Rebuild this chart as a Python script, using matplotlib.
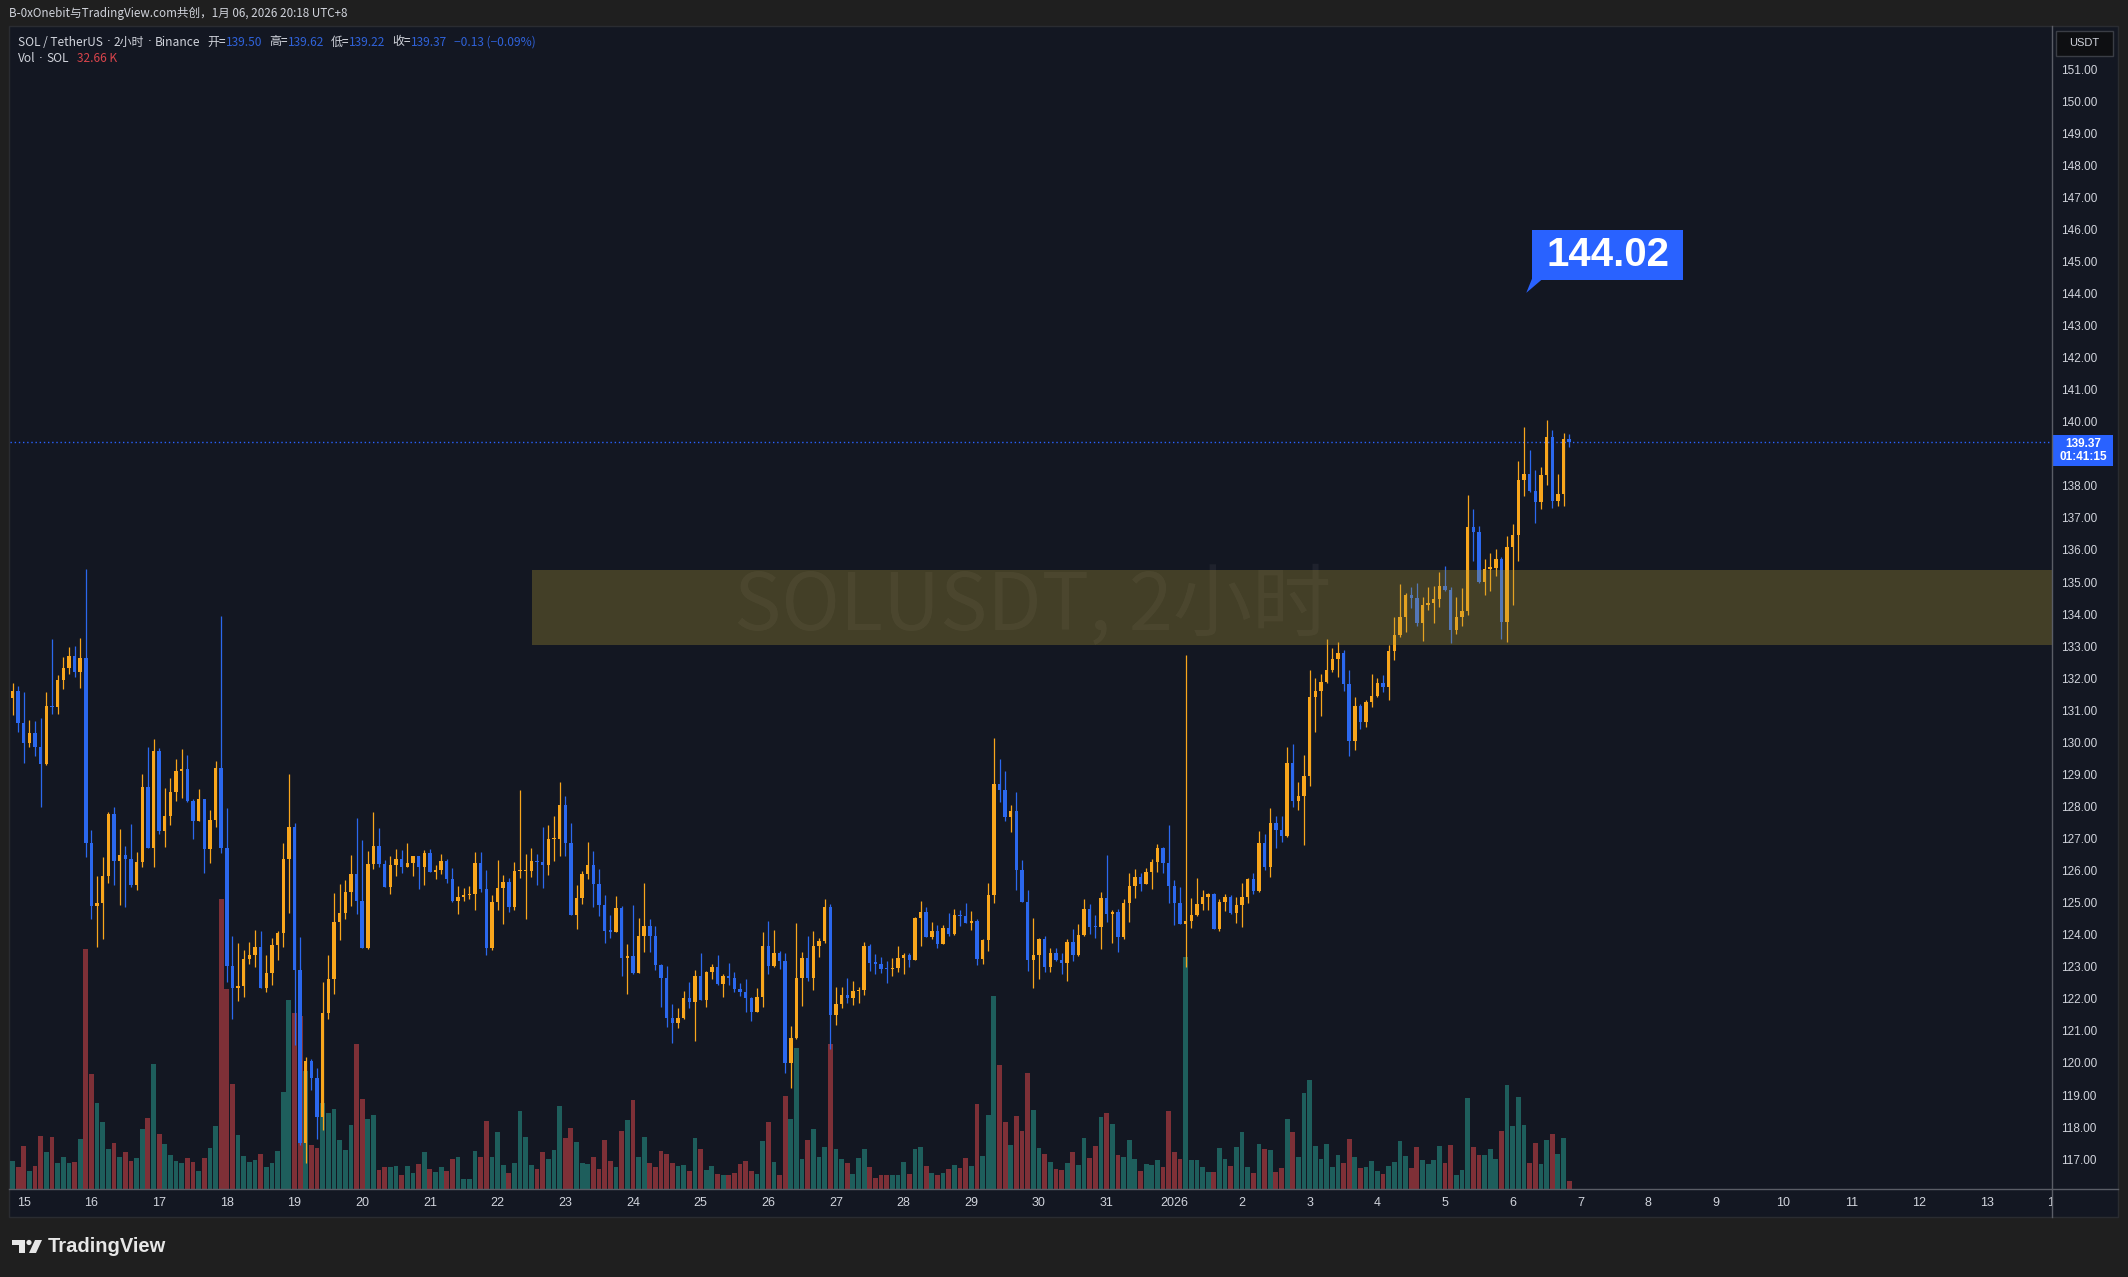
import numpy as np
import matplotlib.pyplot as plt
from matplotlib.patches import Rectangle, Polygon, Circle

# SOL/USDT 2h candles, first bar = Dec 14 20:00, last bar = Jan 6 20:00
# open of each bar = close of the bar before
first_open = 131.39
close = [
    131.61, 130.61,
    129.99, 130.30, 129.84, 129.34, 131.14, 131.11, 131.95, 132.31, 132.68, 132.21, 132.63, 126.85,
    124.91, 124.99, 125.83, 127.76, 126.31, 126.49, 126.35, 125.54, 126.27, 128.60, 126.72, 129.74,
    127.22, 127.70, 128.45, 129.11, 129.16, 128.18, 127.56, 128.23, 126.68, 127.58, 129.20, 126.72,
    123.01, 122.35, 122.40, 123.24, 123.37, 123.61, 122.35, 122.81, 123.68, 124.06, 126.36, 127.36,
    122.91, 117.51, 120.06, 119.54, 118.33, 121.56, 122.62, 124.40, 124.68, 125.33, 125.89, 125.04,
    123.60, 126.21, 126.77, 126.22, 125.50, 126.17, 126.36, 126.12, 126.24, 126.45, 126.10, 126.55,
    125.97, 126.02, 126.30, 125.75, 125.04, 125.18, 125.24, 125.27, 126.24, 125.42, 123.60, 125.03,
    125.46, 125.65, 124.85, 125.99, 125.99, 125.99, 126.30, 126.26, 126.17, 126.99, 127.00, 128.04,
    126.86, 124.63, 125.14, 125.89, 126.17, 125.59, 124.94, 124.12, 124.10, 124.83, 123.28, 123.35,
    122.81, 123.96, 124.27, 123.96, 123.07, 122.65, 121.41, 121.26, 121.40, 122.02, 121.91, 122.71,
    121.98, 122.84, 123.00, 122.47, 122.71, 122.66, 122.31, 122.22, 122.03, 121.60, 122.06, 123.65,
    123.03, 123.43, 123.17, 120.01, 120.77, 122.65, 123.27, 122.66, 123.65, 123.80, 124.86, 121.51,
    121.84, 122.12, 122.03, 122.25, 122.28, 123.65, 123.12, 123.10, 122.94, 122.92, 122.96, 123.27,
    123.37, 123.22, 124.52, 124.71, 123.94, 124.12, 123.71, 124.21, 124.02, 124.62, 124.59, 124.38,
    124.43, 123.24, 123.84, 125.24, 128.71, 128.51, 127.67, 127.86, 126.02, 125.03, 123.22, 123.38,
    123.87, 123.00, 123.43, 123.22, 123.12, 123.78, 123.37, 123.99, 124.80, 124.25, 124.23, 125.14,
    124.64, 124.71, 123.93, 124.99, 125.52, 125.80, 125.59, 125.96, 126.26, 126.71, 126.24, 125.52,
    124.99, 124.34, 124.43, 124.62, 124.96, 125.18, 125.27, 124.19, 125.03, 125.18, 124.68, 124.92,
    125.18, 125.74, 125.37, 126.86, 126.11, 127.48, 127.27, 127.08, 129.35, 128.17, 128.32, 128.95,
    131.42, 131.61, 131.89, 132.26, 132.60, 132.78, 131.82, 130.05, 131.14, 130.64, 131.26, 131.45,
    131.85, 131.74, 132.86, 133.36, 133.91, 134.60, 134.50, 133.72, 134.29, 134.35, 134.47, 134.88,
    134.76, 133.50, 133.91, 134.10, 136.72, 136.56, 135.01, 135.42, 135.43, 135.71, 133.75, 136.09,
    136.47, 138.18, 138.37, 137.84, 137.51, 138.34, 139.53, 137.54, 137.74, 139.47, 139.37,
]
high = [
    131.85, 131.76,
    131.57, 130.70, 130.67, 130.75, 131.57, 133.22, 132.10, 132.66, 132.97, 133.01, 133.25, 135.40,
    127.27, 125.83, 126.43, 127.84, 127.98, 127.29, 126.77, 127.46, 126.58, 129.02, 129.85, 130.11,
    129.83, 128.58, 128.88, 129.48, 129.79, 129.61, 128.23, 128.54, 128.23, 127.89, 129.42, 133.94,
    127.95, 123.96, 123.74, 123.52, 123.78, 124.15, 124.12, 123.37, 123.91, 124.12, 126.87, 129.01,
    127.48, 123.93, 120.19, 120.11, 119.84, 122.53, 123.37, 125.31, 125.59, 125.71, 126.49, 127.64,
    126.96, 126.62, 127.83, 127.33, 126.34, 126.45, 126.67, 126.64, 126.86, 126.47, 126.47, 126.64,
    126.67, 126.17, 126.52, 126.36, 126.08, 125.52, 125.46, 125.52, 126.58, 126.58, 126.02, 125.24,
    126.34, 125.87, 125.78, 126.27, 128.51, 126.52, 126.71, 126.52, 127.36, 127.42, 127.70, 128.77,
    128.32, 127.48, 125.55, 125.99, 126.90, 126.62, 126.06, 125.24, 124.62, 125.20, 124.90, 123.71,
    124.92, 124.52, 125.61, 124.49, 124.27, 123.10, 123.03, 121.84, 121.72, 122.23, 122.54, 122.90,
    123.43, 122.86, 123.09, 123.37, 122.76, 123.12, 122.84, 122.51, 122.62, 122.06, 122.34, 124.08,
    124.43, 124.15, 123.50, 123.43, 121.16, 124.38, 123.46, 123.96, 124.12, 123.91, 125.12, 124.96,
    122.38, 122.38, 122.65, 122.57, 122.38, 123.78, 123.71, 123.40, 123.31, 123.19, 123.28, 123.65,
    123.43, 123.43, 124.55, 125.05, 124.86, 124.40, 124.30, 124.30, 124.68, 124.80, 124.77, 124.99,
    124.75, 124.49, 123.86, 125.61, 130.13, 129.48, 129.11, 128.04, 128.45, 126.34, 125.39, 124.52,
    123.89, 123.96, 123.59, 123.59, 123.43, 123.87, 124.17, 124.34, 125.12, 124.96, 124.62, 125.33,
    126.49, 124.77, 124.80, 125.12, 125.93, 126.04, 125.93, 126.08, 126.36, 126.83, 126.73, 127.42,
    125.71, 125.48, 132.73, 125.14, 125.76, 125.39, 125.31, 125.31, 125.12, 125.27, 125.24, 125.18,
    125.61, 125.76, 125.93, 127.24, 127.14, 127.95, 127.70, 127.70, 129.85, 129.95, 128.77, 129.61,
    132.26, 132.00, 132.13, 133.22, 132.94, 133.12, 132.88, 132.26, 131.42, 131.20, 131.33, 132.13,
    132.00, 132.10, 133.03, 133.92, 134.94, 134.66, 134.85, 134.98, 134.54, 134.85, 134.88, 135.32,
    135.51, 134.85, 134.54, 134.82, 137.71, 137.29, 136.75, 135.71, 135.90, 136.03, 135.78, 136.44,
    136.81, 138.78, 139.83, 139.12, 138.50, 138.59, 140.05, 139.74, 138.37, 139.66, 139.62,
]
low = [
    130.86, 130.31,
    129.37, 129.86, 129.56, 127.97, 129.28, 130.89, 130.87, 131.67, 132.12, 132.05, 131.71, 126.44,
    124.50, 123.63, 123.88, 125.60, 125.54, 124.94, 124.85, 125.50, 125.41, 126.12, 126.70, 126.10,
    127.13, 126.74, 127.41, 128.16, 128.25, 128.15, 127.00, 127.55, 125.94, 126.25, 127.37, 126.55,
    122.54, 121.36, 121.94, 122.07, 123.08, 123.00, 122.33, 122.20, 122.44, 123.21, 123.63, 124.69,
    120.57, 117.44, 116.88, 119.17, 117.63, 117.90, 121.36, 122.16, 123.85, 124.50, 124.91, 124.66,
    123.58, 123.56, 126.06, 126.12, 125.48, 125.28, 125.84, 125.94, 126.10, 125.84, 125.43, 125.56,
    125.95, 125.73, 125.90, 125.62, 125.02, 124.66, 125.05, 125.10, 124.78, 125.33, 123.38, 123.51,
    124.78, 124.35, 124.72, 124.78, 125.78, 124.48, 125.80, 125.56, 125.46, 125.87, 126.30, 126.45,
    126.45, 124.61, 124.19, 124.97, 125.74, 124.86, 124.57, 123.75, 123.91, 124.10, 122.72, 122.14,
    122.76, 122.81, 123.45, 123.45, 122.91, 121.75, 121.13, 120.61, 121.10, 121.38, 121.73, 120.70,
    121.96, 121.75, 122.62, 122.44, 122.07, 122.44, 122.22, 122.10, 121.60, 121.30, 121.58, 121.75,
    122.78, 123.00, 122.94, 119.70, 119.23, 120.76, 121.79, 122.57, 122.29, 123.31, 123.74, 120.44,
    121.17, 121.73, 121.88, 121.82, 121.86, 122.12, 122.87, 122.76, 122.82, 122.51, 122.72, 122.85,
    122.76, 122.98, 123.22, 123.65, 123.92, 123.87, 123.59, 123.70, 123.96, 123.99, 124.27, 124.36,
    124.16, 123.07, 123.09, 123.50, 124.99, 128.14, 127.55, 127.19, 125.41, 125.01, 122.87, 122.35,
    122.63, 122.85, 122.85, 123.19, 122.76, 122.57, 123.19, 123.35, 123.97, 124.02, 123.91, 123.54,
    124.40, 123.75, 123.47, 123.88, 124.40, 125.15, 125.37, 125.57, 125.43, 125.96, 125.93, 124.99,
    124.29, 124.32, 122.99, 124.22, 124.58, 124.77, 124.77, 124.17, 124.12, 124.75, 124.66, 124.36,
    124.25, 124.99, 125.27, 125.33, 126.02, 125.80, 126.71, 126.90, 127.06, 127.98, 127.89, 126.80,
    128.64, 130.33, 130.81, 131.85, 132.19, 132.04, 131.61, 129.58, 129.77, 130.42, 130.49, 131.11,
    131.42, 131.57, 131.33, 132.57, 133.30, 133.45, 134.19, 133.63, 133.17, 134.13, 133.72, 134.22,
    134.72, 133.11, 133.39, 133.63, 133.97, 135.65, 134.98, 134.60, 134.72, 135.20, 133.23, 133.14,
    134.29, 135.65, 137.68, 137.82, 136.85, 137.29, 138.02, 137.32, 137.38, 137.38, 139.22,
]
# volume in thousand SOL
volume = [
    114, 89,
    175, 74, 94, 215, 150, 212, 106, 131, 106, 111, 203, 972,
    466, 349, 273, 162, 187, 131, 150, 114, 126, 243, 288, 507,
    223, 183, 139, 114, 106, 126, 111, 74, 126, 167, 256, 1175,
    810, 426, 220, 134, 111, 119, 142, 89, 106, 155, 393, 767,
    714, 701, 479, 179, 167, 349, 309, 324, 200, 159, 260, 588,
    365, 284, 301, 78, 89, 89, 94, 55, 94, 66, 102, 150,
    83, 69, 89, 74, 122, 131, 41, 41, 155, 131, 276, 131,
    231, 98, 66, 106, 316, 212, 98, 81, 150, 122, 159, 337,
    207, 248, 192, 106, 102, 131, 81, 200, 114, 89, 236, 281,
    362, 131, 212, 106, 89, 155, 142, 106, 94, 98, 74, 207,
    162, 78, 94, 61, 55, 58, 66, 102, 114, 74, 61, 195,
    273, 111, 55, 377, 284, 572, 122, 200, 243, 131, 170, 588,
    162, 122, 106, 61, 126, 162, 89, 45, 58, 58, 58, 58,
    111, 61, 162, 170, 94, 66, 55, 66, 81, 98, 86, 126,
    94, 345, 134, 301, 782, 503, 273, 179, 296, 236, 471, 321,
    167, 142, 111, 81, 78, 106, 150, 98, 207, 126, 175, 293,
    309, 264, 139, 131, 200, 122, 74, 102, 98, 119, 89, 317,
    150, 122, 941, 119, 119, 89, 69, 69, 167, 122, 94, 170,
    231, 89, 66, 183, 162, 159, 69, 86, 284, 231, 131, 390,
    443, 175, 122, 183, 89, 139, 106, 203, 131, 86, 89, 114,
    74, 61, 94, 110, 194, 133, 86, 169, 118, 102, 118, 173,
    106, 177, 57, 78, 369, 169, 137, 137, 161, 122, 235, 420,
    255, 373, 259, 106, 186, 102, 198, 222, 141, 206, 32.66,
]

# day labels on the time axis, one every 12 bars starting at bar 2 (Dec 15 00:00)
day_labels = ['15', '16', '17', '18', '19', '20', '21', '22', '23', '24', '25', '26',
              '27', '28', '29', '30', '31', '2026', '2', '3', '4', '5', '6', '7', '8',
              '9', '10', '11', '12', '13', '14']
price_ticks = [117, 118, 119, 120, 121, 122, 123, 124, 125, 126, 127, 128, 129, 130,
               131, 132, 133, 134, 135, 136, 137, 138, 140, 141, 142, 143, 144, 145,
               146, 147, 148, 149, 150, 151]

# zone and callout
zone_lo, zone_hi, zone_start = 133.03, 135.37, 92.1
callout_bar, callout_price = 268.4, 144.02

# layout (pixels of the 2128x1277 picture)
W, H = 2128, 1277
PL, PT, PR, PB = 10, 28, 2052, 1189
bar0_px, bar_px = 12.5, 5.64
p_top, p_bot = 152.28, 116.07
vol_px = 4.05  # thousand SOL per pixel

BG = '#1F1F1F'
PANEL = '#131722'
UP, DN = '#F9A61C', '#2B68EE'
VUP, VDN = '#1E5E5C', '#7E3037'
TXT = '#D1D4DC'
LINE = '#5A5D66'
BLUE = '#2962FF'
VALC = '#2F62DA'
REDC = '#D8444B'
cjk = ['Noto Sans CJK SC', 'DejaVu Sans']
num = ['Liberation Sans', 'DejaVu Sans']
narrow = ['Liberation Sans Narrow', 'Liberation Sans', 'DejaVu Sans']
dot = ['DejaVu Sans']


def rect(x0, y0, x1, y1):
    return [x0 / W, 1 - y1 / H, (x1 - x0) / W, (y1 - y0) / H]


c = np.array(close)
o = np.r_[first_open, c[:-1]]
h = np.maximum(np.array(high), np.maximum(o, c))
l = np.minimum(np.array(low), np.minimum(o, c))
v = np.array(volume)
x = np.arange(len(c))
up = c >= o
col = np.where(up, UP, DN)
vcol = np.where(up, VUP, VDN)

xlim = ((PL - bar0_px) / bar_px, (PR - bar0_px) / bar_px)

fig = plt.figure(figsize=(W / 100, H / 100), dpi=100, facecolor=BG)

# background panel
ax_bg = fig.add_axes([0, 0, 1, 1], zorder=0)
ax_bg.set_xlim(0, W)
ax_bg.set_ylim(H, 0)
ax_bg.axis('off')
ax_bg.add_patch(Rectangle((9, 26), 2109, 1191, facecolor=PANEL, edgecolor='#2A2C31', lw=1))

# volume
ax_v = fig.add_axes(rect(PL, PT, PR, PB), zorder=1)
ax_v.bar(x, v, width=0.84, color=vcol, lw=0)
ax_v.set_xlim(xlim)
ax_v.set_ylim(0, (PB - PT) * vol_px)
ax_v.axis('off')

# candles
ax = fig.add_axes(rect(PL, PT, PR, PB), zorder=2)
ax.patch.set_visible(False)
ax.vlines(x, l, h, colors=col, lw=0.9, zorder=2)
ax.bar(x, np.maximum(np.abs(c - o), 0.035), bottom=np.minimum(o, c), width=0.6,
       color=col, lw=0, zorder=3)
ax.set_xlim(xlim)
ax.set_ylim(p_bot, p_top)
ax.axis('off')

# last price dotted line
ax.axhline(c[-1], color=BLUE, lw=1, ls=(0, (1, 2)), zorder=1)

# highlighted zone with watermark
ax.text(180.8, (zone_lo + zone_hi) / 2, 'SOLUSDT, 2小时', fontsize=57, color='white',
        alpha=0.05, ha='center', va='center', family=cjk, zorder=4)
ax.add_patch(Rectangle((zone_start, zone_lo), xlim[1] - zone_start, zone_hi - zone_lo,
                       facecolor='#B39C33', alpha=0.3, lw=0, zorder=5))

# callout 144.02
bx0, bx1 = callout_bar + 1.06, callout_bar + 27.8
by0, by1 = callout_price + 0.41, callout_price + 1.97
ax.add_patch(Rectangle((bx0, by0), bx1 - bx0, by1 - by0, facecolor=BLUE, lw=0, zorder=6))
ax.add_patch(Polygon([(callout_bar, callout_price), (bx0, by0 + 0.05), (bx0 + 2.0, by0 + 0.05)],
                     closed=True, facecolor=BLUE, lw=0, zorder=6))
ax.text((bx0 + bx1) / 2, (by0 + by1) / 2, '144.02', color='white', fontsize=29,
        fontweight='bold', family=num, ha='center', va='center', zorder=7)

# price scale
ax_p = fig.add_axes(rect(PR, PT, 2118, PB), zorder=2)
ax_p.patch.set_visible(False)
ax_p.set_ylim(p_bot, p_top)
ax_p.set_xlim(0, 66)
ax_p.axis('off')
for p in price_ticks:
    ax_p.text(9, p, f'{p:.2f}', color=TXT, fontsize=8.5, family=num,
              va='center_baseline', ha='left')
ax_p.add_patch(Rectangle((1, c[-1] - 0.75), 60, 0.96, facecolor=BLUE, lw=0))
ax_p.text(31, c[-1] - 0.05, f'{c[-1]:.2f}', color='white', fontsize=8.5, family=num,
          fontweight='bold', ha='center', va='center')
ax_p.text(31, c[-1] - 0.47, '01:41:15', color='white', fontsize=8.5, family=num,
          fontweight='bold', ha='center', va='center')

# time scale
ax_t = fig.add_axes(rect(PL, PB, PR, 1217), zorder=2)
ax_t.patch.set_visible(False)
ax_t.set_xlim(xlim)
ax_t.set_ylim(0, 1)
ax_t.axis('off')
for k, lab in enumerate(day_labels):
    ax_t.text(2 + 12 * k, 0.5, lab, color=TXT, fontsize=9, family=narrow,
              ha='center', va='center', clip_on=True)

# overlay: separators, header, legend, logo
ax_top = fig.add_axes([0, 0, 1, 1], zorder=10)
ax_top.patch.set_visible(False)
ax_top.set_xlim(0, W)
ax_top.set_ylim(H, 0)
ax_top.axis('off')
ax_top.plot([9, 2118], [PB, PB], color=LINE, lw=1)
ax_top.plot([PR, PR], [26, 1217], color=LINE, lw=1)

# USDT box
ax_top.add_patch(Rectangle((2056, 31), 57, 25, facecolor='#0E0F12', edgecolor='#3A3D45', lw=1))
ax_top.text(2084.5, 43.5, 'USDT', color=TXT, fontsize=8, family=num, ha='center', va='center')

ax_top.text(9, 13, 'B-0xOnebit与TradingView.com共创，1月 06, 2026 20:18 UTC+8',
            color=TXT, fontsize=8.4, family=cjk, ha='left', va='center')


def chain(parts, x0, y0, size=8.6):
    prev = None
    for part in parts:
        s, colr, gap = part[:3]
        fam = part[3] if len(part) > 3 else cjk
        if prev is None:
            prev = ax_top.text(x0, y0, s, color=colr, fontsize=size, family=fam,
                               ha='left', va='center')
        else:
            prev = ax_top.annotate(s, xy=(1, 0), xycoords=prev, xytext=(gap, 0),
                                   textcoords='offset points', color=colr, fontsize=size,
                                   family=fam, ha='left', va='bottom')


chain([('SOL / TetherUS', TXT, 0), ('·', TXT, 2.5, dot), ('2小时', TXT, 2.5),
       ('·', TXT, 2.5, dot), ('Binance', TXT, 2.5),
       ('开=', TXT, 5), ('139.50', VALC, 0),
       ('高=', TXT, 5), ('139.62', VALC, 0),
       ('低=', TXT, 5), ('139.22', VALC, 0),
       ('收=', TXT, 5), ('139.37', VALC, 0),
       ('−0.13 (−0.09%)', VALC, 5)], 18, 42)
chain([('Vol', TXT, 0), ('·', TXT, 2.5, dot), ('SOL', TXT, 2.5), ('32.66 K', REDC, 6)], 18, 59)

# TradingView logo
ax_top.add_patch(Polygon([(12, 1240), (25, 1240), (25, 1253), (19, 1253), (19, 1245), (12, 1245)],
                         closed=True, facecolor='#E6E6E6', lw=0))
ax_top.add_patch(Circle((29, 1242.5), 2.6, facecolor='#E6E6E6', lw=0))
ax_top.add_patch(Polygon([(35, 1240), (42, 1240), (36, 1253), (29, 1253)],
                         closed=True, facecolor='#E6E6E6', lw=0))
ax_top.text(48, 1247, 'TradingView', color='#E6E6E6', fontsize=14.5, family=num,
            fontweight='bold', ha='left', va='center')

fig.savefig('out.png', dpi=100, facecolor=BG)
